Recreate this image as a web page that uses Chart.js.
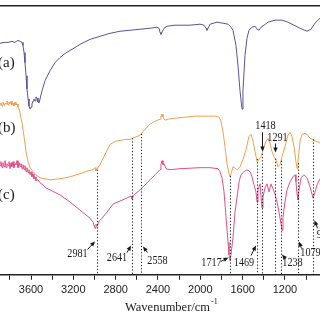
<!DOCTYPE html>
<html>
<head>
<meta charset="utf-8">
<script src="https://cdn.jsdelivr.net/npm/chart.js@4.4.1/dist/chart.umd.min.js"></script>
<style>
  html, body { margin: 0; padding: 0; background: #fff; }
  canvas { display: block; }
</style>
</head>
<body>
<canvas id="ftir" width="320" height="320"></canvas>
<script>
// FTIR spectra, wavenumber (cm-1) vs transmittance (a.u., offset)
const waveA = [3893,3855,3817,3780,3751,3723,3704,3685,3676,3666,3657,3647,3638,3628,3619,3609,3600,3591,3581,3572,3562,3553,3543,3534,3524,3515,3496,3468,3420,3373,3326,3279,3231,3137,3042,2948,2853,2759,2664,2570,2475,2409,2390,2381,2372,2362,2343,2315,2239,2097,2003,1965,1946,1937,1927,1908,1842,1786,1738,1710,1691,1663,1644,1625,1606,1597,1578,1559,1540,1512,1483,1464,1445,1426,1398,1360,1294,1228,1171,1115,1058,992,954,916,869];
const transA = [229,230,230,231,230,232,231,230,227,220,210,197,184,174,167,164,166,169,172,174,172,176,175,171,170,174,182,192,202,210,215,219,222,228,233,236,239,241,242,243,244,245,244,240,238,240,244,246,247,247,248,247,244,242,244,248,250,249,248,245,242,227,207,182,164,182,217,234,242,245,246,243,242,245,247,250,252,252,250,247,244,241,243,249,254];

const waveB = [3893,3884,3874,3865,3855,3846,3836,3827,3817,3808,3798,3789,3780,3770,3761,3751,3742,3732,3723,3713,3704,3685,3666,3647,3628,3609,3581,3553,3515,3468,3420,3326,3231,3137,3061,3014,2995,2986,2976,2948,2901,2853,2806,2759,2712,2664,2646,2617,2570,2523,2475,2428,2381,2372,2362,2353,2334,2305,2239,2145,2050,1956,1861,1823,1805,1786,1767,1748,1729,1719,1710,1691,1672,1653,1625,1597,1568,1540,1521,1502,1483,1464,1445,1426,1417,1398,1379,1360,1341,1323,1304,1285,1266,1247,1228,1200,1171,1152,1134,1115,1096,1086,1077,1058,1039,1011,982,963,935,907,869];
const transB = [168,170,167,171,168,170,169,172,168,171,169,172,168,170,167,171,168,169,166,164,160,150,137,122,112,106,102,99,96,95,94,95,97,100,103,104,106,103,105,109,119,129,132,133,134,134,135,136,138,144,149,152,154,156,159,156,153,154,155,156,157,157,157,156,152,142,127,110,100,97,100,107,106,104,107,114,124,137,139,132,122,112,114,117,120,127,132,135,130,122,117,114,107,109,117,127,138,141,137,127,112,105,112,132,139,140,138,135,134,132,131];

const waveC = [3893,3884,3874,3865,3855,3846,3836,3827,3817,3808,3798,3789,3780,3770,3761,3751,3742,3732,3723,3713,3704,3695,3685,3676,3666,3657,3647,3638,3628,3619,3609,3600,3591,3581,3572,3562,3553,3534,3515,3487,3458,3420,3326,3231,3137,3042,3014,2995,2986,2976,2957,2929,2882,2825,2759,2693,2655,2646,2627,2570,2523,2475,2428,2381,2372,2362,2353,2343,2324,2286,2192,2003,1908,1833,1814,1795,1776,1757,1738,1729,1719,1710,1691,1672,1653,1634,1616,1587,1559,1530,1512,1493,1474,1464,1455,1436,1426,1417,1408,1389,1370,1351,1332,1313,1294,1275,1256,1237,1228,1219,1200,1181,1152,1124,1105,1096,1086,1077,1067,1048,1020,992,963,935,916,897,869];
const transC = [108,112,106,111,107,113,106,110,108,112,105,111,107,112,106,110,109,113,106,111,107,110,105,109,104,108,102,106,101,104,99,102,97,100,95,97,93,94,91,89,86,84,79,72,64,56,52,46,50,48,53,56,62,70,73,76,78,75,79,84,89,94,99,104,109,113,109,110,105,104,105,106,106,105,102,96,82,57,32,20,14,20,37,62,77,92,99,102,104,102,97,89,82,72,84,90,77,66,77,86,90,82,90,85,80,72,62,50,44,57,72,84,92,97,99,92,80,74,84,96,99,96,87,76,82,89,95];

const xTicks = [3800,3600,3400,3200,3000,2800,2600,2400,2200,2000,1800,1600,1400,1200,1000];
const seriesNames = ['(a)', '(b)', '(c)'];
const peakWaves = [2981, 2641, 2558, 1717, 1469, 1418, 1291, 1238, 1079, 935];
const peakLabels = ['2981', '2641', '2558', '1717', '1469', '1418', '1291', '1238', '1079', '935'];

// label / arrow placement: [labelDx, labelY, tailDx, tailY, headDx, headY] (px offsets from the guide line, y in axis units)
const peakLayout = [
  [-20, 21, -10, 25, -2.5, 33],
  [-15.5, 17, -5.5, 22, -1.5, 29],
  [16, 14, 6, 22, 1.5, 28],
  [-19, 12, -10, 13, -2, 17],
  [-13.5, 12, -6.5, 19, -1.5, 29],
  [3, 147, 0, 141, 0, 122],
  [2, 136, 0, 130, 0, 121],
  [11, 12, 4, 16, 0.5, 20],
  [12, 22, 3, 26, 0.5, 33],
  [11, 40, 4, 46, 1, 54]
];
const nameY = [210, 145, 79];

function toPoints(w, t) {
  return w.map((v, i) => ({ x: v, y: t[i] }));
}

function interp(w, t, x) {
  for (let i = 0; i < w.length - 1; i++) {
    if (x <= w[i] && x >= w[i + 1]) {
      const f = (w[i] - x) / (w[i] - w[i + 1]);
      return t[i] + f * (t[i + 1] - t[i]);
    }
  }
  return t[t.length - 1];
}

function squeezedText(ctx, text, x, y, sx) {
  ctx.save();
  ctx.translate(x, y);
  ctx.scale(sx, 1);
  ctx.fillText(text, 0, 0);
  ctx.restore();
}

function arrow(ctx, x1, y1, x2, y2) {
  const a = Math.atan2(y2 - y1, x2 - x1);
  ctx.beginPath();
  ctx.moveTo(x1, y1);
  ctx.lineTo(x2 - 3 * Math.cos(a), y2 - 3 * Math.sin(a));
  ctx.stroke();
  ctx.beginPath();
  ctx.moveTo(x2, y2);
  ctx.lineTo(x2 - 5 * Math.cos(a) + 2.2 * Math.sin(a), y2 - 5 * Math.sin(a) - 2.2 * Math.cos(a));
  ctx.lineTo(x2 - 5 * Math.cos(a) - 2.2 * Math.sin(a), y2 - 5 * Math.sin(a) + 2.2 * Math.cos(a));
  ctx.closePath();
  ctx.fill();
}

const annotations = {
  id: 'annotations',
  afterDatasetsDraw(chart) {
    const { ctx, chartArea, scales: { x, y } } = chart;
    ctx.save();
    ctx.strokeStyle = '#1a1a1a';
    ctx.fillStyle = '#1a1a1a';
    ctx.lineWidth = 1;

    peakWaves.forEach((w, i) => {
      const px = Math.round(x.getPixelForValue(w)) + 0.5;
      const top = y.getPixelForValue(interp(waveB, transB, w));
      ctx.setLineDash([1.2, 2]);
      ctx.beginPath();
      ctx.moveTo(px, top);
      ctx.lineTo(px, chartArea.bottom);
      ctx.stroke();
      ctx.setLineDash([]);

      const [ldx, ly, tdx, ty, hdx, hy] = peakLayout[i];
      arrow(ctx, px + tdx, y.getPixelForValue(ty), px + hdx, y.getPixelForValue(hy));

      ctx.font = '12px "Liberation Serif"';
      ctx.textBaseline = 'middle';
      ctx.textAlign = 'center';
      squeezedText(ctx, peakLabels[i], px + ldx, y.getPixelForValue(ly), 0.85);
    });

    // series names
    ctx.font = '15px "Liberation Serif"';
    ctx.textAlign = 'left';
    ctx.textBaseline = 'middle';
    seriesNames.forEach((n, i) => {
      ctx.fillText(n, chartArea.left - 2, y.getPixelForValue(nameY[i]));
    });

    // axis title with superscript
    ctx.textBaseline = 'alphabetic';
    ctx.font = '12.5px "Liberation Serif"';
    ctx.fillText('Wavenumber/cm', 125, 311);
    const tw = ctx.measureText('Wavenumber/cm').width;
    ctx.font = '8px "Liberation Serif"';
    ctx.fillText('-1', 125 + tw + 1, 304);
    ctx.restore();
  }
};

new Chart(document.getElementById('ftir'), {
  type: 'line',
  data: {
    datasets: [
      { label: seriesNames[0], data: toPoints(waveA, transA), borderColor: '#5e5296', borderWidth: 1, pointRadius: 0 },
      { label: seriesNames[1], data: toPoints(waveB, transB), borderColor: '#f0a050', borderWidth: 1, pointRadius: 0 },
      { label: seriesNames[2], data: toPoints(waveC, transC), borderColor: '#e0508a', borderWidth: 1, pointRadius: 0 }
    ]
  },
  options: {
    responsive: false,
    animation: false,
    devicePixelRatio: 1,
    layout: { padding: { top: 0, left: 0, right: 0, bottom: 19 } },
    plugins: { legend: { display: false }, tooltip: { enabled: false } },
    scales: {
      x: {
        type: 'linear',
        position: 'bottom',
        reverse: true,
        min: 869,
        max: 3893,
        afterBuildTicks: s => { s.ticks = xTicks.map(v => ({ value: v })); },
        ticks: {
          autoSkip: false,
          maxRotation: 0,
          padding: 4,
          color: '#222',
          font: { family: 'Liberation Sans', size: 11 },
          callback: function (v) { return v % 400 === 0 ? String(v) : ''; }
        },
        grid: { drawOnChartArea: false, tickLength: 5, color: '#222' },
        border: { color: '#222', width: 1.5 }
      },
      xTop: {
        type: 'linear',
        position: 'top',
        reverse: true,
        min: 869,
        max: 3893,
        ticks: { display: false },
        grid: { drawOnChartArea: false, drawTicks: false },
        border: { color: '#222', width: 1.5 },
        afterFit: s => { s.height = 6; }
      },
      y: { display: false, min: 0, max: 266 }
    }
  },
  plugins: [annotations]
});
</script>
</body>
</html>
